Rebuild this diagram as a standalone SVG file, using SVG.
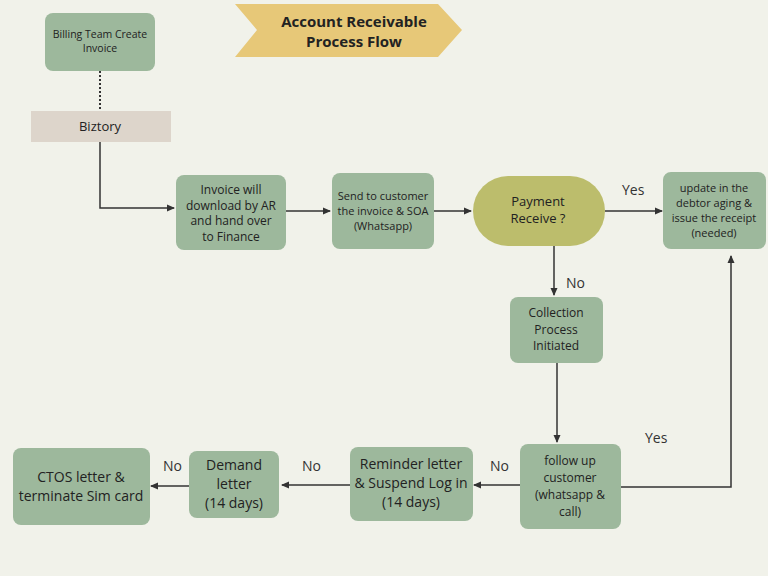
<svg xmlns="http://www.w3.org/2000/svg" width="768" height="576" viewBox="0 0 768 576">
<style>
.n{fill:#9db89c}
.t{font-family:"Open Sans","Liberation Sans",sans-serif;fill:#222;text-anchor:middle}
.c{stroke:#333;stroke-width:1.5;fill:none}
.l{font-family:"Open Sans","Liberation Sans",sans-serif;fill:#333;font-size:14px}
</style>
<defs><marker id="a" markerWidth="8" markerHeight="8" refX="7" refY="4" orient="auto" markerUnits="userSpaceOnUse"><path d="M0,0.5L8,4L0,7.5z" fill="#333"/></marker></defs>
<rect width="768" height="576" fill="#f1f2ea"/>
<g id="title"><polygon points="235,4 438,4 462,30 438,57 235,57 257,30" fill="#e7c878"/>
<text class="t" x="354" y="27" font-size="15" font-weight="bold" fill="#333">Account Receivable</text>
<text class="t" x="354" y="47" font-size="15" font-weight="bold" fill="#333">Process Flow</text></g>
<g id="connectors">
<line x1="100" y1="71" x2="100" y2="111" stroke="#333" stroke-width="2" stroke-dasharray="2,2"/>
<path class="c" d="M100,142V208H174" marker-end="url(#a)"/>
<path class="c" d="M286,211H330" marker-end="url(#a)"/>
<path class="c" d="M434,211H471" marker-end="url(#a)"/>
<path class="c" d="M605,211H662" marker-end="url(#a)"/>
<path class="c" d="M554,246V295" marker-end="url(#a)"/>
<path class="c" d="M557,363V442" marker-end="url(#a)"/>
<path class="c" d="M621,487H731V256" marker-end="url(#a)"/>
<path class="c" d="M520,485H474" marker-end="url(#a)"/>
<path class="c" d="M350,485H282" marker-end="url(#a)"/>
<path class="c" d="M189,486H151" marker-end="url(#a)"/>
<text class="l" x="622" y="195">Yes</text>
<text class="l" x="566" y="288">No</text>
<text class="l" x="645" y="443">Yes</text>
<text class="l" x="490" y="471">No</text>
<text class="l" x="302" y="471">No</text>
<text class="l" x="163" y="471">No</text>
</g>
<g id="billing"><rect class="n" x="45" y="13" width="110" height="58" rx="8"/>
<text class="t" font-size="10.5"><tspan x="100" y="38">Billing Team Create</tspan><tspan x="100" y="52">Invoice</tspan></text></g>
<g id="biztory"><rect x="31" y="111" width="140" height="31" fill="#ddd5cb"/>
<text class="t" x="100" y="131" font-size="13">Biztory</text></g>
<g id="invoice"><rect class="n" x="176" y="175" width="110" height="75" rx="8"/>
<text class="t" font-size="12" fill="#444"><tspan x="231" y="194">Invoice will</tspan><tspan x="231" y="209.5">download by AR</tspan><tspan x="231" y="225">and hand over</tspan><tspan x="231" y="240.5">to Finance</tspan></text></g>
<g id="send"><rect class="n" x="332" y="173" width="102" height="76" rx="8"/>
<text class="t" font-size="11"><tspan x="383" y="200">Send to customer</tspan><tspan x="383" y="215">the invoice &amp; SOA</tspan><tspan x="383" y="230">(Whatsapp)</tspan></text></g>
<g id="payment"><rect x="473" y="176" width="132" height="70" rx="35" fill="#bcbd6c"/>
<text class="t" font-size="13"><tspan x="538" y="206">Payment</tspan><tspan x="538" y="223">Receive ?</tspan></text></g>
<g id="update"><rect class="n" x="663" y="172" width="103" height="77" rx="8"/>
<text class="t" font-size="11"><tspan x="714" y="192">update in the</tspan><tspan x="714" y="207">debtor aging &amp;</tspan><tspan x="714" y="222">issue the receipt</tspan><tspan x="714" y="237">(needed)</tspan></text></g>
<g id="collection"><rect class="n" x="510" y="297" width="93" height="66" rx="8"/>
<text class="t" font-size="12"><tspan x="556" y="317">Collection</tspan><tspan x="556" y="334">Process</tspan><tspan x="556" y="350">Initiated</tspan></text></g>
<g id="followup"><rect class="n" x="520" y="444" width="101" height="85" rx="8"/>
<text class="t" font-size="12"><tspan x="570" y="465">follow up</tspan><tspan x="570" y="482">customer</tspan><tspan x="570" y="499">(whatsapp &amp;</tspan><tspan x="570" y="516">call)</tspan></text></g>
<g id="reminder"><rect class="n" x="350" y="447" width="123" height="74" rx="8"/>
<text class="t" font-size="14"><tspan x="411" y="469">Reminder letter</tspan><tspan x="411" y="488">&amp; Suspend Log in</tspan><tspan x="411" y="507">(14 days)</tspan></text></g>
<g id="demand"><rect class="n" x="189" y="451" width="90" height="67" rx="8"/>
<text class="t" font-size="14"><tspan x="234" y="470">Demand</tspan><tspan x="234" y="489">letter</tspan><tspan x="234" y="508">(14 days)</tspan></text></g>
<g id="ctos"><rect class="n" x="13" y="448" width="137" height="77" rx="8"/>
<text class="t" font-size="14"><tspan x="81" y="482">CTOS letter &amp;</tspan><tspan x="81" y="501">terminate Sim card</tspan></text></g>
</svg>
